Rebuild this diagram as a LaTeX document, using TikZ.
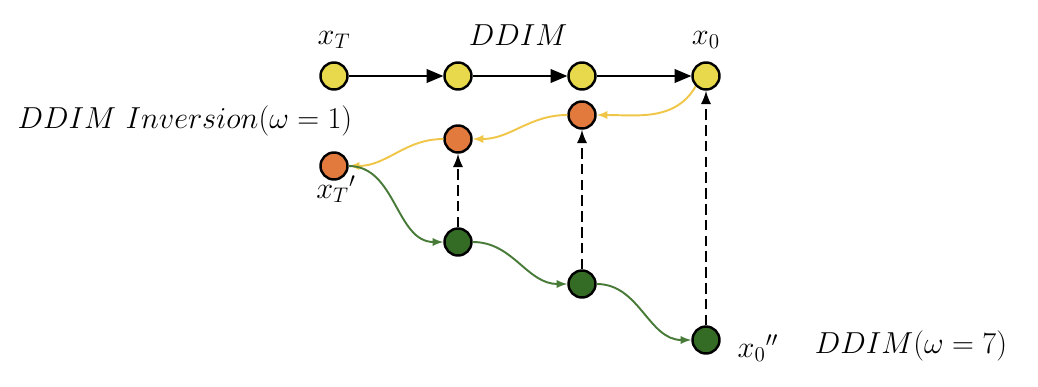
\documentclass[tikz,border=0pt]{standalone}
\usetikzlibrary{arrows}

\definecolor{ddimyellow}{RGB}{232,216,76}
\definecolor{invorange}{RGB}{226,122,62}
\definecolor{cfggreen}{RGB}{52,108,38}
\definecolor{invline}{RGB}{240,198,72}
\definecolor{cfgline}{RGB}{72,122,56}

\tikzset{
  state/.style={circle, draw=black, line width=1.4pt, minimum size=0.54cm, inner sep=0pt},
  lbl/.style={font=\fontsize{18}{21}\selectfont},
  flow/.style={line width=1.1pt, -latex},
  guide/.style={line width=1.6pt, dash pattern=on 6pt off 3pt, -latex},
}

\begin{document}
\begin{tikzpicture}[x=0.02cm, y=-0.02cm]
    \useasboundingbox (0, 0) rectangle (1038, 386);

    % DDIM (top row)
    \node[state, fill=ddimyellow] (y1) at (334, 76) {};
    \node[state, fill=ddimyellow] (y2) at (458, 76) {};
    \node[state, fill=ddimyellow] (y3) at (582, 76) {};
    \node[state, fill=ddimyellow] (y4) at (706, 76) {};
    \node[lbl] (xT) at (334, 40) {$x_T$};
    \node[lbl] (ddim) at (518, 35) {$DDIM$};
    \node[lbl] (x0) at (706, 40) {$x_0$};
    \draw[line width=1.2pt, -triangle 45] (y1) -- (y2);
    \draw[line width=1.2pt, -triangle 45] (y2) -- (y3);
    \draw[line width=1.2pt, -triangle 45] (y3) -- (y4);

    % Inversion
    \node[state, fill=invorange] (o1) at (334, 166) {};
    \node[state, fill=invorange] (o2) at (458, 139) {};
    \node[state, fill=invorange] (o3) at (582, 115) {};
    \node[lbl] (inv) at (185, 121) {$DDIM\ Inversion(\omega = 1)$};
    \node[lbl] (xTp) at (336, 189) {$x_T{}'$};
    \draw[flow, invline] (y4.south west) to[out=-120, in=0] (o3.east);
    \draw[flow, invline] (o3.west) to[out=180, in=0] (o2.east);
    \draw[flow, invline] (o2.west) to[out=180, in=0] (o1.east);

    % CFG sampling
    \node[state, fill=cfggreen] (g1) at (458, 242) {};
    \node[state, fill=cfggreen] (g2) at (582, 284) {};
    \node[state, fill=cfggreen] (g3) at (706, 340) {};
    \node[lbl] (x0pp) at (758, 348) {$x_0{}''$};
    \node[lbl] (ddim7) at (911, 346) {$DDIM(\omega = 7)$};
    \draw[flow, cfgline] (o1.east) to[out=0, in=180] (g1.west);
    \draw[flow, cfgline] (g1.east) to[out=0, in=180] (g2.west);
    \draw[flow, cfgline] (g2.east) to[out=0, in=180] (g3.west);

    % guidance links
    \draw[guide] (g1) -- (o2);
    \draw[guide] (g2) -- (o3);
    \draw[guide] (g3) -- (y4);

\end{tikzpicture}
\end{document}
